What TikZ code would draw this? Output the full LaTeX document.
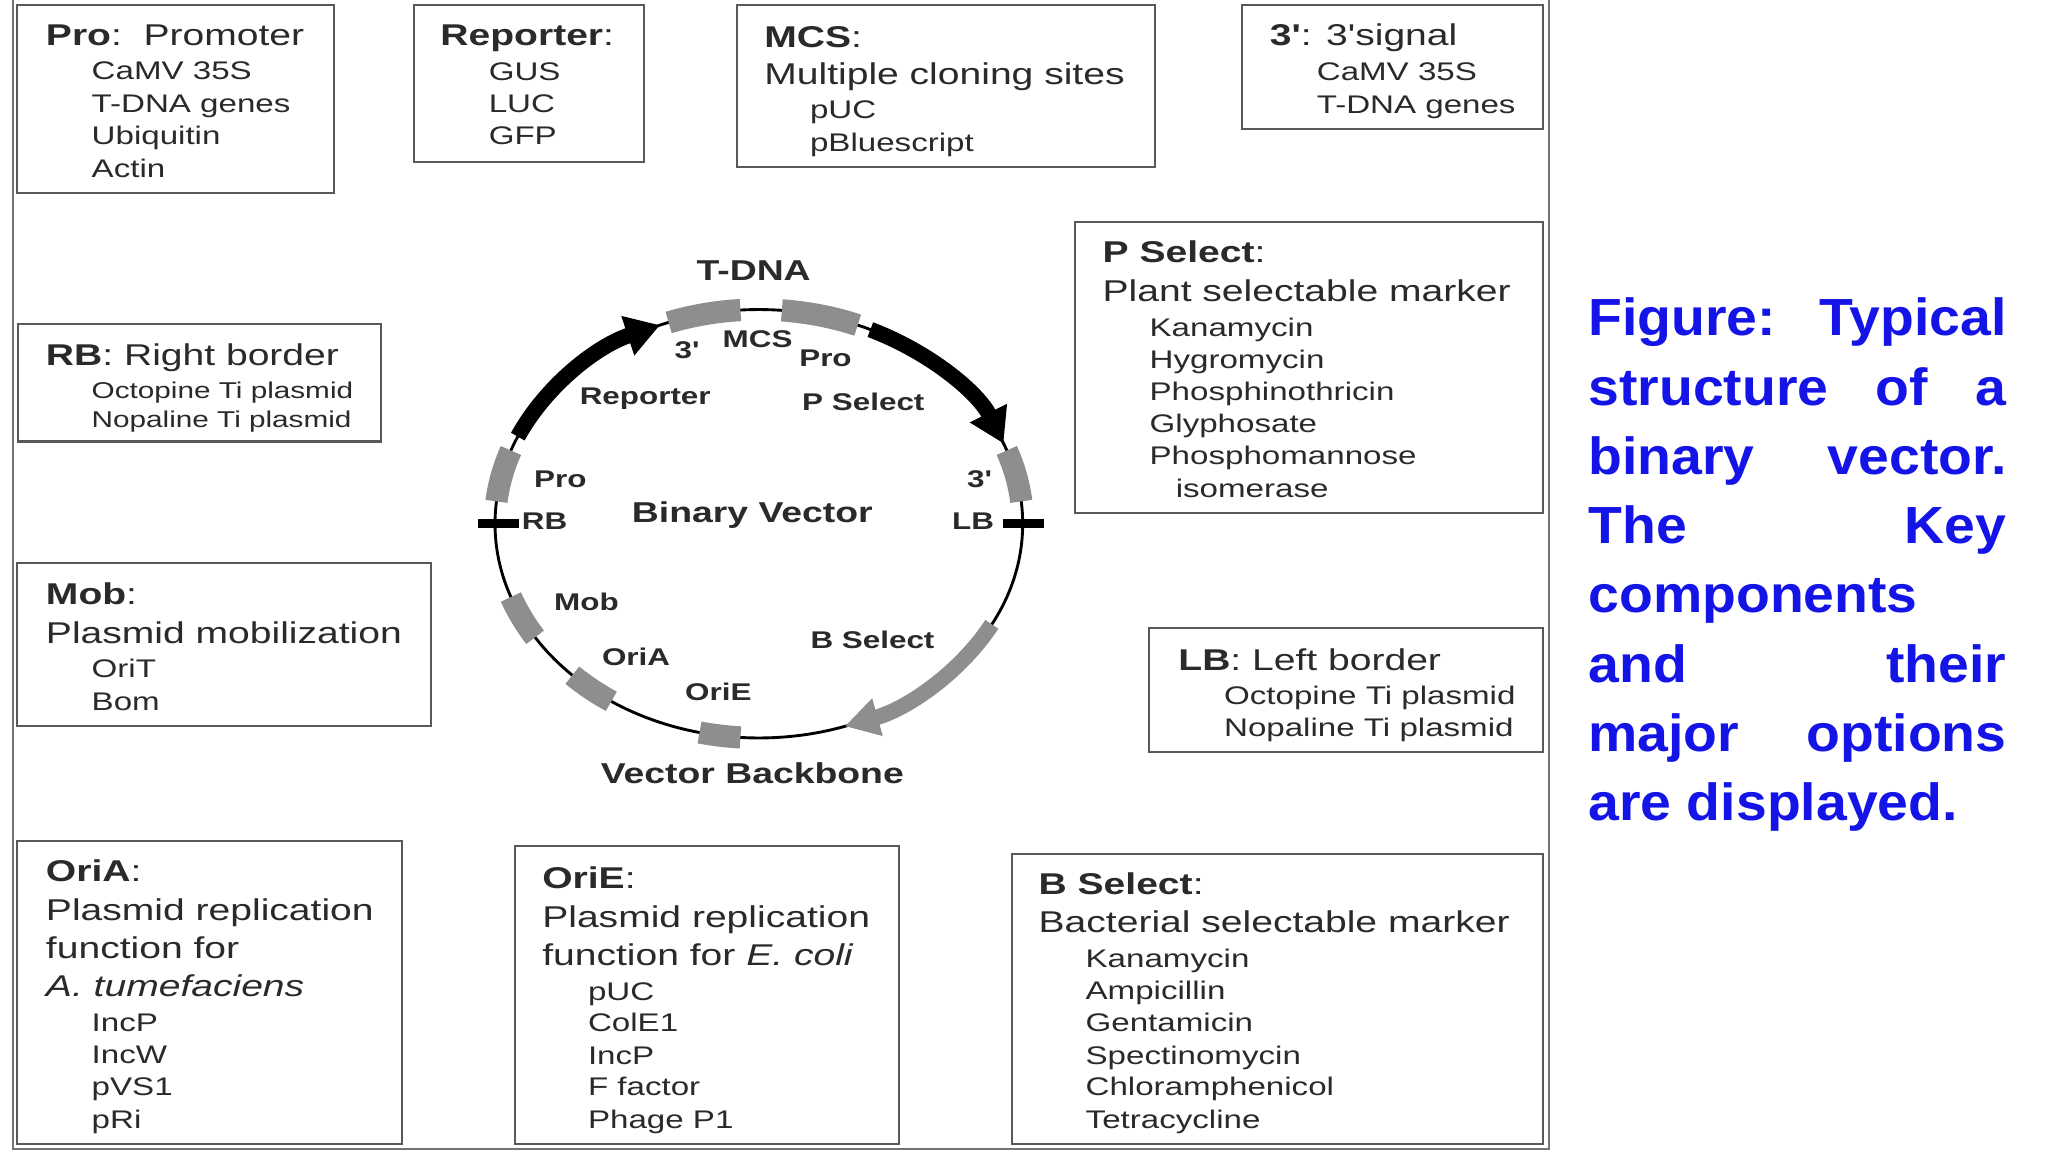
\documentclass[tikz,border=0pt]{standalone}
\usepackage{fontspec}
\setmainfont{Liberation Sans}
\newfontfamily\wide{Liberation Sans}[FakeStretch=1.3]
\newfontfamily\capf{Liberation Sans}[FakeStretch=1.06]
\usetikzlibrary{arrows.meta}
\definecolor{tx}{HTML}{2A2A2A}
\definecolor{gr}{HTML}{8E8E8E}
\definecolor{cap}{HTML}{1414E6}
\begin{document}
\begin{tikzpicture}[x=1pt,y=-1pt,
  box/.style={draw=black!65,line width=1.6},
  hd/.style={anchor=base west,inner sep=0,text=tx,font=\wide\fontsize{23}{28}\selectfont},
  it/.style={anchor=base west,inner sep=0,text=tx,font=\wide\fontsize{19.5}{24}\selectfont},
  sm/.style={anchor=base west,inner sep=0,text=tx,font=\wide\fontsize{17.5}{22}\selectfont},
  lb/.style={inner sep=0,text=tx,font=\wide\bfseries\fontsize{18.5}{22}\selectfont},
  big/.style={inner sep=0,text=tx,font=\wide\bfseries\fontsize{22}{26}\selectfont},
  gseg/.style={gr,line width=17},
  blk/.style={black,line width=12,-{Triangle[length=26pt,width=30pt]}},
  garr/.style={gr,line width=12,-{Triangle[length=26pt,width=28pt]}},
  bar/.style={black,line width=7}]
\useasboundingbox (0,0) rectangle (1568,882);
\fill[white] (0,0) rectangle (1568,882);
% outer frame
\draw[black!55,line width=1.5] (10,0) -- (10,880) -- (1186,880) -- (1186,0);
% boxes
\draw[box] (13,4) rectangle (256,148);
\node[hd] (pro) at (35,35) {\textbf{Pro}:\ \ Promoter};
\node[it] at (70,61) {CaMV 35S};
\node[it] at (70,86) {T-DNA genes};
\node[it] at (70,111) {Ubiquitin};
\node[it] at (70,136) {Actin};
\draw[box] (317,4) rectangle (493,124);
\node[hd] (rep) at (337,35) {\textbf{Reporter}:};
\node[it] at (374,62) {GUS};
\node[it] at (374,86) {LUC};
\node[it] at (374,111) {GFP};
\draw[box] (564,4) rectangle (884,128);
\node[hd] (mcs) at (585,36) {\textbf{MCS}:};
\node[hd] at (585,65) {Multiple cloning sites};
\node[it] at (620,91) {pUC};
\node[it] at (620,116) {pBluescript};
\draw[box] (951,4) rectangle (1181,99);
\node[hd] (thr) at (972,35) {\textbf{3'}: 3'signal};
\node[it] at (1008,62) {CaMV 35S};
\node[it] at (1008,87) {T-DNA genes};
\draw[box] (823,170) rectangle (1181,393);
\node[hd] (psel) at (844,201) {\textbf{P Select}:};
\node[hd] at (844,231) {Plant selectable marker};
\node[it] at (880,258) {Kanamycin};
\node[it] at (880,282) {Hygromycin};
\node[it] at (880,307) {Phosphinothricin};
\node[it] at (880,331) {Glyphosate};
\node[it] at (880,356) {Phosphomannose};
\node[it] at (900,381) {isomerase};
\draw[box] (14,248) rectangle (292,338);
\node[hd] (rbb) at (35,280) {\textbf{RB}: Right border};
\node[sm] at (70,305) {Octopine Ti plasmid};
\node[sm] at (70,327) {Nopaline Ti plasmid};
\draw[box] (13,431) rectangle (330,556);
\node[hd] (mob) at (35,463) {\textbf{Mob}:};
\node[hd] at (35,493) {Plasmid mobilization};
\node[it] at (70,519) {OriT};
\node[it] at (70,544) {Bom};
\draw[box] (880,481) rectangle (1181,576);
\node[hd] (lbb) at (902,513) {\textbf{LB}: Left border};
\node[it] at (937,539) {Octopine Ti plasmid};
\node[it] at (937,564) {Nopaline Ti plasmid};
\draw[box] (13,644) rectangle (308,876);
\node[hd] (oria) at (35,675) {\textbf{OriA}:};
\node[hd] at (35,705) {Plasmid replication};
\node[hd] at (35,734) {function for};
\node[hd] at (35,763) {\itshape A. tumefaciens};
\node[it] at (70,790) {IncP};
\node[it] at (70,814) {IncW};
\node[it] at (70,839) {pVS1};
\node[it] at (70,864) {pRi};
\draw[box] (394,648) rectangle (688,876);
\node[hd] (orie) at (415,680) {\textbf{OriE}:};
\node[hd] at (415,710) {Plasmid replication};
\node[hd] at (415,739) {function for \textit{E. coli}};
\node[it] at (450,766) {pUC};
\node[it] at (450,790) {ColE1};
\node[it] at (450,815) {IncP};
\node[it] at (450,839) {F factor};
\node[it] at (450,864) {Phage P1};
\draw[box] (775,654) rectangle (1181,876);
\node[hd] (bsel) at (795,685) {\textbf{B Select}:};
\node[hd] at (795,714) {Bacterial selectable marker};
\node[it] at (831,741) {Kanamycin};
\node[it] at (831,765) {Ampicillin};
\node[it] at (831,790) {Gentamicin};
\node[it] at (831,815) {Spectinomycin};
\node[it] at (831,839) {Chloramphenicol};
\node[it] at (831,864) {Tetracycline};
% plasmid
\coordinate (c) at (581,401);
\draw[black,line width=2.2] (c) ellipse[x radius=202,y radius=164];
\foreach \a/\b in {-110/-94,-85/-68,-20/-6,-160/-174,-200/-212,-225/-236,-257/-266}
  \draw[gseg] (c) ++(\a:202 and 164) arc[start angle=\a,end angle=\b,x radius=202,y radius=164];
\draw[blk] (c) ++(-156:202 and 164) arc[start angle=-156,end angle=-112,x radius=202,y radius=164];
\draw[blk] (c) ++(-65:202 and 164) arc[start angle=-65,end angle=-22,x radius=202,y radius=164];
\draw[garr] (c) ++(-332:202 and 164) arc[start angle=-332,end angle=-289,x radius=202,y radius=164];
\draw[bar] (366,401) -- (397,401);
\draw[bar] (768,401) -- (799,401);
\node[big] (tdna) at (577,207) {T-DNA};
\node[lb] at (526,268) {3'};
\node[lb] at (580,260) {MCS};
\node[lb] at (632,274) {Pro};
\node[lb] at (494,305) {Reporter};
\node[lb] at (661,308) {P Select};
\node[lb] at (429,367) {Pro};
\node[lb] at (417,399) {RB};
\node[big] (bv) at (576,394) {Binary Vector};
\node[lb] at (750,367) {3'};
\node[lb] at (745,399) {LB};
\node[lb] at (449,461) {Mob};
\node[lb] at (487,503) {OriA};
\node[lb] at (668,490) {B Select};
\node[lb] at (550,530) {OriE};
\node[big] (vb) at (576,592) {Vector Backbone};
% caption
\node[anchor=north west,inner sep=0,text width=320pt,align=justify,text=cap,
  font=\capf\bfseries\fontsize{40}{53}\selectfont] (capt) at (1216,228)
  {Figure: Typical\linebreak structure of a\linebreak binary vector.\linebreak The Key\linebreak components\hfill\linebreak and their\linebreak major options\linebreak are displayed.};
\end{tikzpicture}
\end{document}
